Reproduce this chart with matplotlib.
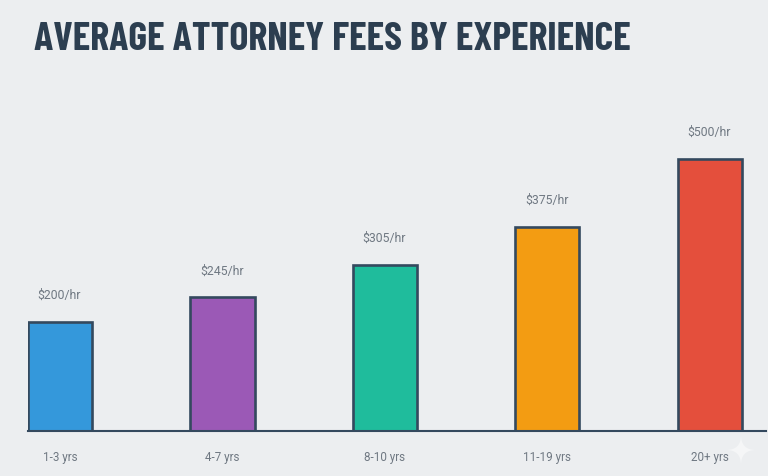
import matplotlib
matplotlib.use("Agg")
import matplotlib.pyplot as plt
from matplotlib.path import Path
from matplotlib.patches import PathPatch

categories = ["1-3 yrs", "4-7 yrs", "8-10 yrs", "11-19 yrs", "20+ yrs"]
rates = [200, 245, 305, 375, 500]
rate_labels = ["$200/hr", "$245/hr", "$305/hr", "$375/hr", "$500/hr"]
bar_colors = ["#3498db", "#9b59b6", "#1fbc9c", "#f39c12", "#e44f3c"]

W, H = 768, 477
BG = "#eceef0"
DARK = "#2c3e50"
EDGE = "#34495e"
MUTED = "#6f7882"

fig = plt.figure(figsize=(W / 100, H / 100), dpi=100, facecolor=BG)

# Axes run from the first bar's left edge to near the right border
left, right, top, base = 28, 766, 100, 431.5
ax = fig.add_axes([left / W, 1 - base / H, (right - left) / W, (base - top) / H])
ax.set_facecolor("none")
ax.set_xlim(-0.197, 4.345)
ax.set_ylim(0, (base - top) / 0.544)

positions = range(len(categories))
ax.bar(positions, rates, width=0.394, color=bar_colors, edgecolor=EDGE, linewidth=1.9, zorder=2)

for pos, rate, label in zip(positions, rates, rate_labels):
    ax.annotate(label, (pos - 0.005, rate), xytext=(0, 27), textcoords="offset pixels",
                ha="center", va="center", fontsize=8.8, color=MUTED, family="Roboto")

ax.set_xticks(list(positions), categories, family="Roboto", fontsize=8.4, color=MUTED)
ax.tick_params(axis="x", length=0, pad=14)
ax.set_yticks([])
for side in ("top", "left", "right"):
    ax.spines[side].set_visible(False)
ax.spines["bottom"].set_color(EDGE)
ax.spines["bottom"].set_linewidth(1.5)

fig.text(34 / W, 1 - 50 / H, "AVERAGE ATTORNEY FEES BY EXPERIENCE", ha="left", va="baseline",
         fontsize=28.8, fontweight="bold", color=DARK,
         family=["Barlow Condensed", "Fjalla One", "Roboto"])

# Faint four-point sparkle in the lower right corner
cx, cy, r = 741 / W, 1 - 451 / H, 15
rx, ry = r / W, r / H
verts = [(cx, cy + ry), (cx, cy), (cx + rx, cy), (cx, cy), (cx, cy - ry), (cx, cy),
         (cx - rx, cy), (cx, cy), (cx, cy + ry)]
codes = [Path.MOVETO] + [Path.CURVE3] * 8
fig.add_artist(PathPatch(Path(verts, codes), transform=fig.transFigure,
                         facecolor="#f5f6f7", edgecolor="none"))

fig.savefig("out.png", dpi=100, facecolor=BG)
